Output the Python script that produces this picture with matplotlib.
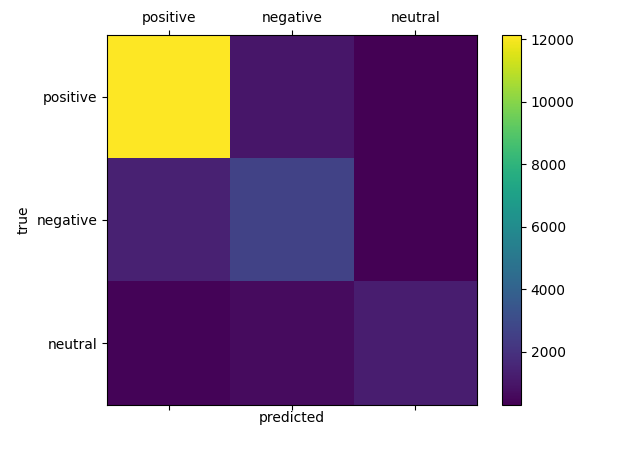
import matplotlib
matplotlib.use("Agg")
import matplotlib.pyplot as plt
import numpy as np

labels = ["positive", "negative", "neutral"]
row_positive = [12140, 1000, 300]
row_negative = [1380, 2650, 310]
row_neutral = [400, 650, 1250]

cm = np.array([row_positive, row_negative, row_neutral])

fig = plt.figure(figsize=(6.4, 4.58), dpi=100)
ax = fig.add_axes([0.167, 0.1157, 0.578, 0.808])
cbar_ax = fig.add_axes([0.785, 0.1157, 0.0288, 0.808])

im = ax.matshow(cm, cmap="viridis")
fig.colorbar(im, cax=cbar_ax)

ax.set_xticks(range(len(labels)))
ax.set_yticks(range(len(labels)))
ax.set_xticklabels(labels)
ax.set_yticklabels(labels)
ax.set_xlabel("predicted", labelpad=1)
ax.set_ylabel("true")

fig.savefig("out.png")
